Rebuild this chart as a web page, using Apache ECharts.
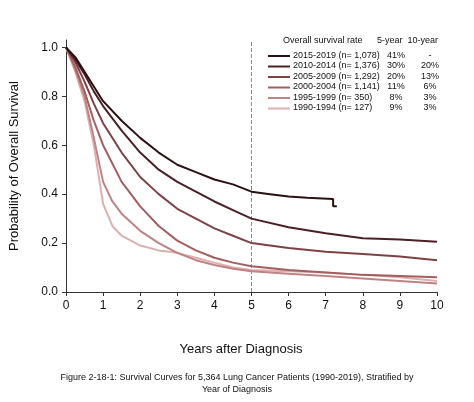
<!DOCTYPE html><html><head><meta charset="utf-8"><script src="https://cdn.jsdelivr.net/npm/echarts@6/dist/echarts.min.js"></script></head><body style="margin:0"><div id="c" style="width:474px;height:402px"></div><script>
const names=['2015-2019 (n= 1,078)','2010-2014 (n= 1,376)','2005-2009 (n= 1,292)','2000-2004 (n= 1,141)','1995-1999 (n= 350)','1990-1994 (n= 127)'];
const fiveYear=['41%','30%','20%','11%','8%','9%'];
const tenYear=['-','20%','13%','6%','3%','3%'];
const colors=['#2b1114','#4a1f26','#7d4246','#a35e60','#c08384','#dcb0b0'];
const s1=[[0,1],[0.25,0.96],[0.5,0.9],[0.75,0.84],[1,0.78],[1.5,0.7],[2,0.63],[2.5,0.57],[3,0.52],[3.5,0.49],[4,0.46],[4.5,0.44],[5,0.41],[5.5,0.40],[6,0.39],[6.5,0.385],[7.2,0.38],[7.2,0.35],[7.3,0.35]];
const s2=[[0,1],[0.25,0.95],[0.5,0.89],[0.75,0.82],[1,0.76],[1.5,0.66],[2,0.57],[2.5,0.5],[3,0.45],[3.5,0.41],[4,0.37],[4.5,0.335],[5,0.30],[6,0.265],[7,0.24],[8,0.22],[9,0.215],[10,0.205]];
const s3=[[0,1],[0.25,0.94],[0.5,0.86],[0.75,0.77],[1,0.69],[1.5,0.57],[2,0.47],[2.5,0.4],[3,0.34],[3.5,0.3],[4,0.26],[4.5,0.23],[5,0.2],[6,0.18],[7,0.165],[8,0.155],[9,0.145],[10,0.13]];
const s4=[[0,1],[0.25,0.92],[0.5,0.82],[0.75,0.7],[1,0.6],[1.5,0.45],[2,0.35],[2.5,0.27],[3,0.21],[3.5,0.17],[4,0.14],[4.5,0.12],[5,0.105],[6,0.09],[7,0.08],[8,0.07],[9,0.065],[10,0.06]];
const s5=[[0,1],[0.25,0.91],[0.5,0.8],[0.75,0.63],[1,0.45],[1.25,0.37],[1.5,0.32],[2,0.25],[2.5,0.2],[3,0.16],[3.5,0.13],[4,0.11],[4.5,0.095],[5,0.085],[6,0.075],[7,0.065],[8,0.055],[9,0.045],[10,0.035]];
const s6=[[0,1],[0.25,0.9],[0.5,0.78],[0.75,0.6],[1,0.36],[1.25,0.27],[1.5,0.23],[2,0.19],[2.5,0.17],[3,0.16],[3.5,0.14],[4,0.12],[4.5,0.1],[5,0.09],[6,0.085],[7,0.08],[8,0.07],[9,0.06],[10,0.045]];
const data=[s1,s2,s3,s4,s5,s6];
const ch=echarts.init(document.getElementById('c'));
const series=data.map((d,i)=>({type:'line',data:d,showSymbol:false,z:10-i,lineStyle:{color:colors[i],width:2},itemStyle:{color:colors[i]}}));
series[0].markLine={silent:true,symbol:'none',label:{show:false},lineStyle:{type:'dashed',color:'#888',width:1},data:[{xAxis:5}]};
const F='9px Liberation Sans';
const g=[{type:'text',style:{x:283,y:36,text:'Overall survival rate',font:F,fill:'#111'}},
{type:'text',style:{x:377,y:36,text:'5-year  10-year',font:F,fill:'#111'}}];
names.forEach((n,i)=>{const y=51+i*10.5;
g.push({type:'line',shape:{x1:268,y1:y+5,x2:290,y2:y+5},style:{stroke:colors[i],lineWidth:2}});
g.push({type:'text',style:{x:293,y:y,text:n,font:F,fill:'#111'}});
g.push({type:'text',style:{x:396,y:y,text:fiveYear[i],font:F,fill:'#111',align:'center'}});
g.push({type:'text',style:{x:430,y:y,text:tenYear[i],font:F,fill:'#111',align:'center'}});});
g.push({type:'text',style:{x:241,y:343,text:'Years after Diagnosis',font:'13px Liberation Sans',fill:'#111',align:'center'}});
g.push({type:'text',style:{x:237,y:372,text:'Figure 2-18-1: Survival Curves for 5,364 Lung Cancer Patients (1990-2019), Stratified by\nYear of Diagnosis',font:'9px Liberation Sans',fill:'#111',align:'center',lineHeight:12}});
ch.setOption({animation:false,graphic:g,
grid:{left:66,right:37,top:40,bottom:110},
xAxis:{type:'value',min:0,max:10,interval:1,axisLine:{lineStyle:{color:'#333'}},axisTick:{length:4},axisLabel:{color:'#111',fontSize:12},splitLine:{show:false}},
yAxis:{type:'value',min:0,max:1.03,interval:0.2,name:'Probability of Overall Survival',nameLocation:'middle',nameGap:45,nameTextStyle:{fontSize:13,color:'#111'},
axisLine:{show:true,lineStyle:{color:'#333'}},axisTick:{show:true,length:4},splitLine:{show:false},
axisLabel:{color:'#111',fontSize:12,showMaxLabel:false,formatter:v=>v>1.001?'':v.toFixed(1)}},
series});
</script></body></html>
